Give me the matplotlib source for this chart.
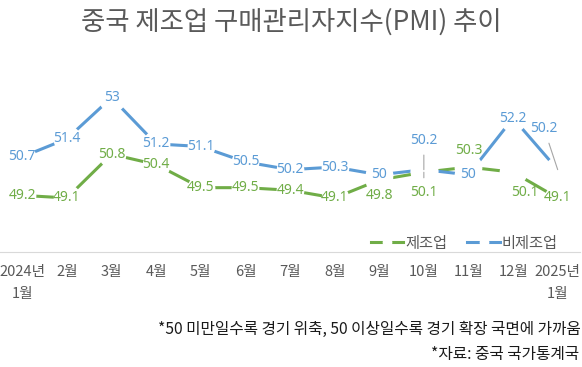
import matplotlib
matplotlib.use("Agg")
import matplotlib.pyplot as plt
from matplotlib.lines import Line2D

plt.rcParams['font.family'] = ['Noto Sans CJK KR', 'DejaVu Sans']

# ---- data ----
months = ["2024년\n1월", "2월", "3월", "4월", "5월", "6월", "7월", "8월",
          "9월", "10월", "11월", "12월", "2025년\n1월"]
manufacturing = [49.2, 49.1, 50.8, 50.4, 49.5, 49.5, 49.4, 49.1, 49.8, 50.1, 50.3, 50.1, 49.1]
non_manufacturing = [50.7, 51.4, 53.0, 51.2, 51.1, 50.5, 50.2, 50.3, 50.0, 50.2, 50.0, 52.2, 50.2]
series_names = ["제조업", "비제조업"]
title = "중국 제조업 구매관리자지수(PMI) 추이"
notes = ["*50 미만일수록 경기 위축, 50 이상일수록 경기 확장 국면에 가까움",
         "*자료: 중국 국가통계국"]

GREEN = "#70AD47"
BLUE = "#5B9BD5"
GRAY = "#595959"

# label offsets in points (dx, dy, leader)
offsets_m = {8: (0, -11.5, False), 9: (0, -14.4, True), 10: (0, 12.2, False), 11: (8.6, -14.8, False)}
offsets_n = {9: (0, 20.9, True), 12: (-9.7, 29.3, True)}

fig = plt.figure(figsize=(5.82, 3.67), dpi=100)
ax = fig.add_axes([0, (367 - 252) / 367, 580 / 582, 193 / 367])
x = list(range(len(months)))

ax.plot(x, manufacturing, color=GREEN, lw=2.2, zorder=2, solid_capstyle='butt')
ax.plot(x, non_manufacturing, color=BLUE, lw=2.2, zorder=2, solid_capstyle='butt')
for vals in (manufacturing, non_manufacturing):
    ax.plot(x, vals, 'o', ms=20, mfc='white', mec='none', zorder=3)

def put_labels(vals, color, offs):
    for i, v in enumerate(vals):
        txt = f"{v:g}"
        dx, dy, leader = offs.get(i, (0, 0, False))
        kw = dict(textcoords='offset points', ha='center', va='center',
                  color=color, fontsize=10, fontweight='bold', zorder=5,
                  family=['Noto Sans', 'DejaVu Sans'])
        if leader:
            kw['arrowprops'] = dict(arrowstyle='-', color='#A6A6A6', lw=0.8,
                                    shrinkA=3, shrinkB=0)
        ax.annotate(txt, xy=(i, v), xytext=(dx, dy), **kw)

put_labels(manufacturing, GREEN, offsets_m)
put_labels(non_manufacturing, BLUE, offsets_n)

ax.set_xlim(-0.5, len(months) - 0.5)
ax.set_ylim(47, 54.5)
ax.set_xticks(x)
ax.set_xticklabels(months, fontsize=10.5, color=GRAY, linespacing=1.75)
ax.tick_params(axis='x', length=0, pad=9.5)
ax.set_yticks([])
for s in ('top', 'left', 'right'):
    ax.spines[s].set_visible(False)
ax.spines['bottom'].set_color('#D9D9D9')
ax.spines['bottom'].set_linewidth(0.8)
ax.patch.set_alpha(0)

handles = [Line2D([], [], color=GREEN, lw=2.2, marker='o', ms=7, mfc='white', mec='none'),
           Line2D([], [], color=BLUE, lw=2.2, marker='o', ms=7, mfc='white', mec='none')]
leg = ax.legend(handles, series_names, loc='center right', bbox_to_anchor=(0.975, 0.045),
                ncol=2, frameon=False, fontsize=11, handlelength=2.1, handletextpad=0.15,
                columnspacing=1.3, numpoints=1, borderpad=0)
for t in leg.get_texts():
    t.set_color(GRAY)

fig.text(0.5, 1 - 22 / 367, title, ha='center', va='center', fontsize=19, color=GRAY)
fig.text(581 / 582, 1 - 329 / 367, notes[0], ha='right', va='center', fontsize=11.3, color='#1a1a1a')
fig.text(579 / 582, 1 - 354 / 367, notes[1], ha='right', va='center', fontsize=11.3, color='#1a1a1a')

fig.savefig("out.png", dpi=100, facecolor='white')
